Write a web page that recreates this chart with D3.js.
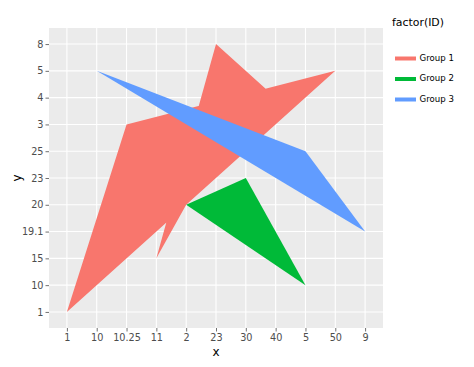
<!DOCTYPE html>
<html><head><meta charset="utf-8">
<script src="https://cdn.jsdelivr.net/npm/d3@7"></script>
<style>body{margin:0;background:#fff;} text{font-family:"DejaVu Sans",Verdana,sans-serif;}</style>
</head><body>
<svg id="chart" width="474" height="367"></svg>
<script>
const xCategories = ["1","10","10.25","11","2","23","30","40","5","50","9"];
const yCategories = ["1","10","15","19.1","20","23","25","3","4","5","8"];
const groups = ["Group 1","Group 2","Group 3"];
const colors = ["#F8766D","#00BA38","#619CFF"];
const group1X = ["1","10.25","50","2","11","23","40","2"];
const group1Y = ["1","3","5","20","15","8","4","20"];
const group2X = ["2","30","5"];
const group2Y = ["20","23","10"];
const group3X = ["10","5","9"];
const group3Y = ["5","25","19.1"];

const svg = d3.select("#chart");
const L = 49, R = 383, T = 28, B = 328;
const x = d3.scalePoint().domain(xCategories).range([L, R]).padding(0.6);
const y = d3.scalePoint().domain(yCategories).range([B, T]).padding(0.6);

svg.append("rect").attr("x", L).attr("y", T).attr("width", R - L).attr("height", B - T).attr("fill", "#EBEBEB");

const grid = svg.append("g");
xCategories.forEach(c => grid.append("line").attr("x1", x(c)).attr("x2", x(c)).attr("y1", T).attr("y2", B)
  .attr("stroke", "#fff").attr("stroke-width", 1.1));
yCategories.forEach(c => grid.append("line").attr("y1", y(c)).attr("y2", y(c)).attr("x1", L).attr("x2", R)
  .attr("stroke", "#fff").attr("stroke-width", 1.1));

const series = [[group1X, group1Y], [group2X, group2Y], [group3X, group3Y]];
const line = d3.line().x(d => x(d[0])).y(d => y(d[1]));
series.forEach((s, i) => {
  const pts = s[0].map((v, j) => [v, s[1][j]]);
  svg.append("path").attr("d", line(pts) + "Z").attr("fill", colors[i]).attr("stroke", "none");
});

const xAxis = svg.append("g").attr("transform", `translate(0,${B})`)
  .call(d3.axisBottom(x).tickSize(3.5).tickPadding(3));
const yAxis = svg.append("g").attr("transform", `translate(${L},0)`)
  .call(d3.axisLeft(y).tickSize(3.5).tickPadding(2));
[xAxis, yAxis].forEach(a => {
  a.select(".domain").remove();
  a.selectAll(".tick line").attr("stroke", "#333").attr("stroke-opacity", 0.7);
  a.selectAll(".tick text").attr("fill", "#4D4D4D").style("font-size", "9.7px").style("font-family", "DejaVu Sans");
});

svg.append("text").attr("x", (L + R) / 2).attr("y", 356).attr("text-anchor", "middle")
  .style("font-size", "12px").attr("fill", "#000").text("x");
svg.append("text").attr("transform", `translate(21,${(T + B) / 2}) rotate(-90)`).attr("text-anchor", "middle")
  .style("font-size", "12px").attr("fill", "#000").text("y");

svg.append("text").attr("x", 392).attr("y", 26).style("font-size", "10.9px").attr("fill", "#000").text("factor(ID)");
const leg = svg.append("g");
groups.forEach((g, i) => {
  const yy = 57.5 + i * 20.5;
  leg.append("line").attr("x1", 395).attr("x2", 416).attr("y1", yy + 1).attr("y2", yy + 1)
    .attr("stroke", colors[i]).attr("stroke-width", 4);
  leg.append("text").attr("x", 419.5).attr("y", yy + 3).style("font-size", "8.6px").attr("fill", "#000").text(g);
});
</script>
</body></html>
